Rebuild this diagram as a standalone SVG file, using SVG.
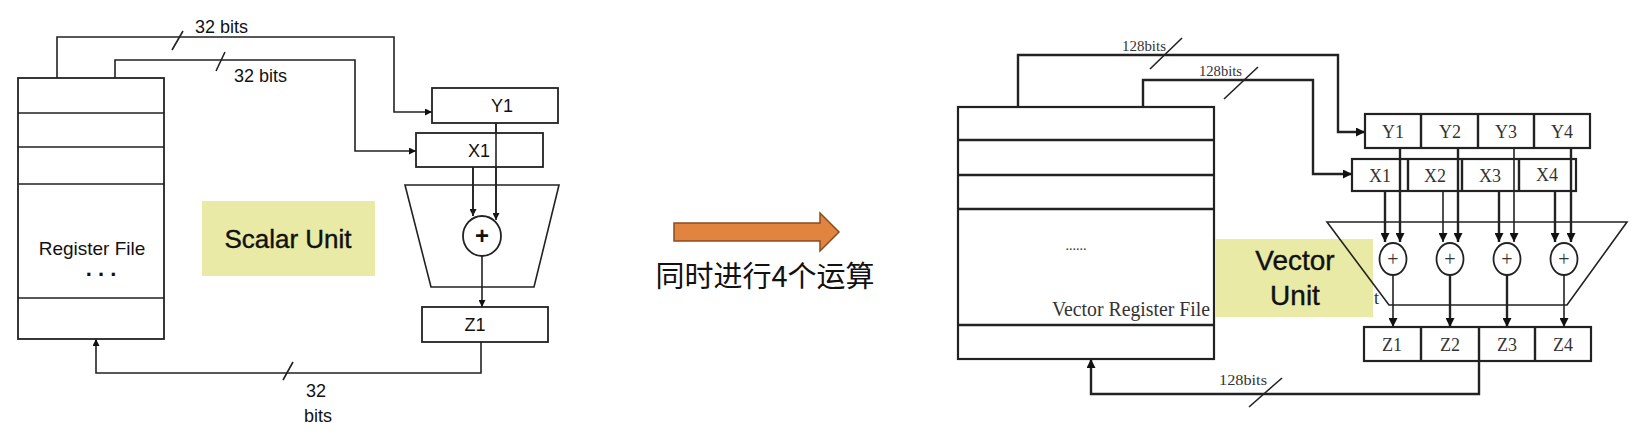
<svg xmlns="http://www.w3.org/2000/svg" width="1644" height="442" viewBox="0 0 1644 442">
<defs>
<marker id="ah" viewBox="0 0 10 10" refX="10" refY="5" markerWidth="7" markerHeight="7" markerUnits="userSpaceOnUse" orient="auto"><path d="M0,0 L10,5 L0,10 z" fill="#111"/></marker>
<marker id="ah2" viewBox="0 0 10 10" refX="10" refY="5" markerWidth="9" markerHeight="9" markerUnits="userSpaceOnUse" orient="auto"><path d="M0,0 L10,5 L0,10 z" fill="#111"/></marker>
</defs>
<style>
.s{fill:#fff;stroke:#222;stroke-width:1.8}
.v{fill:#fff;stroke:#222;stroke-width:2.2}
.ln{fill:none;stroke:#222;stroke-width:1.6}
.lv{fill:none;stroke:#222;stroke-width:2.4}
.t{font-family:"Liberation Sans",Arial,sans-serif;fill:#111}
.r{font-family:"Liberation Serif","Times New Roman",serif;fill:#333}
.y{fill:#e8eaa6}
</style>
<rect width="1644" height="442" fill="#fff"/>
<g id="connectors">
<path class="ln" d="M57,78 V37 H394 V112 H432" marker-end="url(#ah)"/>
<path class="ln" d="M115,78 V60 H355 V151 H416" marker-end="url(#ah)"/>
<path class="ln" d="M172,50 L183,31 M216,71 L225,52 M283,380 L293,362"/>
<path class="ln" d="M473,167 V216" marker-end="url(#ah)"/>
<path class="ln" d="M496,123 V220" marker-end="url(#ah)"/>
<path class="ln" d="M482,256 V307" marker-end="url(#ah)"/>
<path class="ln" d="M481,342 V373 H96 V339" marker-end="url(#ah)"/>
<path class="lv" d="M1018,107 V55 H1338 V132 H1365" marker-end="url(#ah2)"/>
<path class="lv" d="M1143,107 V80 H1313 V174 H1352" marker-end="url(#ah2)"/>
<path class="lv" d="M1479,361 V394 H1091 V359" marker-end="url(#ah2)"/>
<path class="ln" d="M1150,69 L1182,38 M1224,99 L1258,67 M1249,407 L1282,378"/>
</g>
<g id="scalar-unit-label"><rect class="y" x="202" y="201" width="173" height="75"/><text class="t" x="288" y="248" font-size="26" text-anchor="middle" stroke="#111" stroke-width="0.4">Scalar Unit</text></g>
<g id="register-file">
<rect class="s" x="18" y="78" width="146" height="261"/>
<path class="ln" d="M18,113 H164 M18,147 H164 M18,184 H164 M18,298 H164"/>
<text class="t" x="92" y="255" font-size="19" text-anchor="middle">Register File</text>
<text class="t" x="101" y="276" font-size="22" text-anchor="middle" font-weight="bold">. . .</text>
</g>
<g id="y1"><rect class="s" x="432" y="88" width="126" height="35"/><text class="t" x="502" y="112" font-size="18" text-anchor="middle">Y1</text></g>
<g id="x1"><rect class="s" x="416" y="133" width="127" height="34"/><text class="t" x="479" y="157" font-size="18" text-anchor="middle">X1</text></g>
<g id="alu"><path class="ln" d="M405,185 H559 L534,287 H431 Z"/><ellipse class="s" cx="482" cy="236" rx="19" ry="20"/><text class="t" x="482" y="244" font-size="24" text-anchor="middle" font-weight="bold">+</text></g>
<path class="ln" d="M473,167 V216 M496,123 V216"/>
<g id="z1"><rect class="s" x="422" y="307" width="126" height="35"/><text class="t" x="475" y="331" font-size="18" text-anchor="middle">Z1</text></g>
<g id="labels-left">
<text class="t" x="195" y="33" font-size="18">32 bits</text>
<text class="t" x="234" y="82" font-size="18">32 bits</text>
<text class="t" x="316" y="397" font-size="18" text-anchor="middle">32</text>
<text class="t" x="318" y="422" font-size="18" text-anchor="middle">bits</text>
</g>
<g id="transition">
<path d="M674,223 H820 V213 L839,232 L820,251 V241 H674 Z" fill="#e0843f" stroke="#8a4b1f" stroke-width="1.5"/>
<text x="765" y="287" font-size="29" text-anchor="middle" font-family="'Noto Sans CJK SC','Noto Sans',sans-serif" fill="#111">同时进行4个运算</text>
</g>
<g id="vector-register-file">
<rect class="v" x="958" y="107" width="256" height="252" stroke-width="3"/>
<path class="lv" d="M958,140 H1214 M958,175 H1214 M958,209 H1214 M958,325 H1214" stroke-width="3"/>
<text class="r" x="1076" y="250" font-size="14" text-anchor="middle">......</text>
<text class="r" x="1052" y="316" font-size="22" textLength="158" lengthAdjust="spacingAndGlyphs">Vector Register File</text>
</g>
<g id="vector-unit-label"><rect class="y" x="1215" y="239" width="158" height="78"/><text class="t" x="1295" y="270" font-size="28" text-anchor="middle" stroke="#111" stroke-width="0.4">Vector</text><text class="t" x="1295" y="305" font-size="28" text-anchor="middle" stroke="#111" stroke-width="0.4">Unit</text></g>
<g id="vector-alu">
<path class="ln" d="M1327,222 H1627 L1567,305 H1389 Z"/>
<text class="r" x="1374" y="304" font-size="18">t</text>
<ellipse class="s" cx="1393" cy="259" rx="13.5" ry="16"/><ellipse class="s" cx="1450" cy="259" rx="13.5" ry="16"/><ellipse class="s" cx="1507" cy="259" rx="13.5" ry="16"/><ellipse class="s" cx="1564" cy="259" rx="13.5" ry="16"/>
<g class="r" font-size="20" text-anchor="middle" fill="#222"><text x="1393" y="266">+</text><text x="1450" y="266">+</text><text x="1507" y="266">+</text><text x="1564" y="266">+</text></g>
</g>
<g id="vector-y"><rect class="v" x="1365" y="114" width="225" height="34" stroke-width="3"/><path class="lv" d="M1421,114 V148 M1478,114 V148 M1534,114 V148"/>
<g class="r" font-size="18" text-anchor="middle"><text x="1393" y="138">Y1</text><text x="1450" y="138">Y2</text><text x="1506" y="138">Y3</text><text x="1562" y="138">Y4</text></g></g>
<g id="vector-x"><rect class="v" x="1352" y="159" width="224" height="32"/><path class="lv" d="M1408,159 V191 M1462,159 V191 M1519,159 V191"/>
<g class="r" font-size="18" text-anchor="middle"><text x="1380" y="182">X1</text><text x="1435" y="182">X2</text><text x="1490" y="182">X3</text><text x="1547" y="181">X4</text></g></g>
<g id="vector-lanes">
<path class="lv" d="M1385,191 V242" marker-end="url(#ah2)"/><path class="lv" d="M1400,148 V242" marker-end="url(#ah2)"/>
<path class="ln" d="M1443,191 V242" marker-end="url(#ah2)"/><path class="lv" d="M1458,148 V242" marker-end="url(#ah2)"/>
<path class="lv" d="M1499,191 V242" marker-end="url(#ah2)"/><path class="ln" d="M1514,148 V242" marker-end="url(#ah2)"/>
<path class="lv" d="M1555,191 V242" marker-end="url(#ah2)"/><path class="lv" d="M1571,148 V242" marker-end="url(#ah2)"/>
<path class="ln" d="M1393,275 V327" marker-end="url(#ah2)"/><path class="lv" d="M1450,275 V327" marker-end="url(#ah2)"/><path class="lv" d="M1507,275 V327" marker-end="url(#ah2)"/><path class="ln" d="M1564,275 V327" marker-end="url(#ah2)"/>
</g>
<g id="vector-z"><rect class="v" x="1364" y="327" width="227" height="34"/><path class="lv" d="M1421,327 V361 M1479,327 V361 M1535,327 V361"/>
<g class="r" font-size="18" text-anchor="middle"><text x="1392" y="351">Z1</text><text x="1450" y="351">Z2</text><text x="1507" y="351">Z3</text><text x="1563" y="351">Z4</text></g></g>
<g id="labels-right" class="r" font-size="15">
<text x="1122" y="51" textLength="44" lengthAdjust="spacingAndGlyphs">128bits</text>
<text x="1199" y="76" textLength="43" lengthAdjust="spacingAndGlyphs">128bits</text>
<text x="1219" y="385" textLength="48" lengthAdjust="spacingAndGlyphs">128bits</text>
</g>
</svg>
